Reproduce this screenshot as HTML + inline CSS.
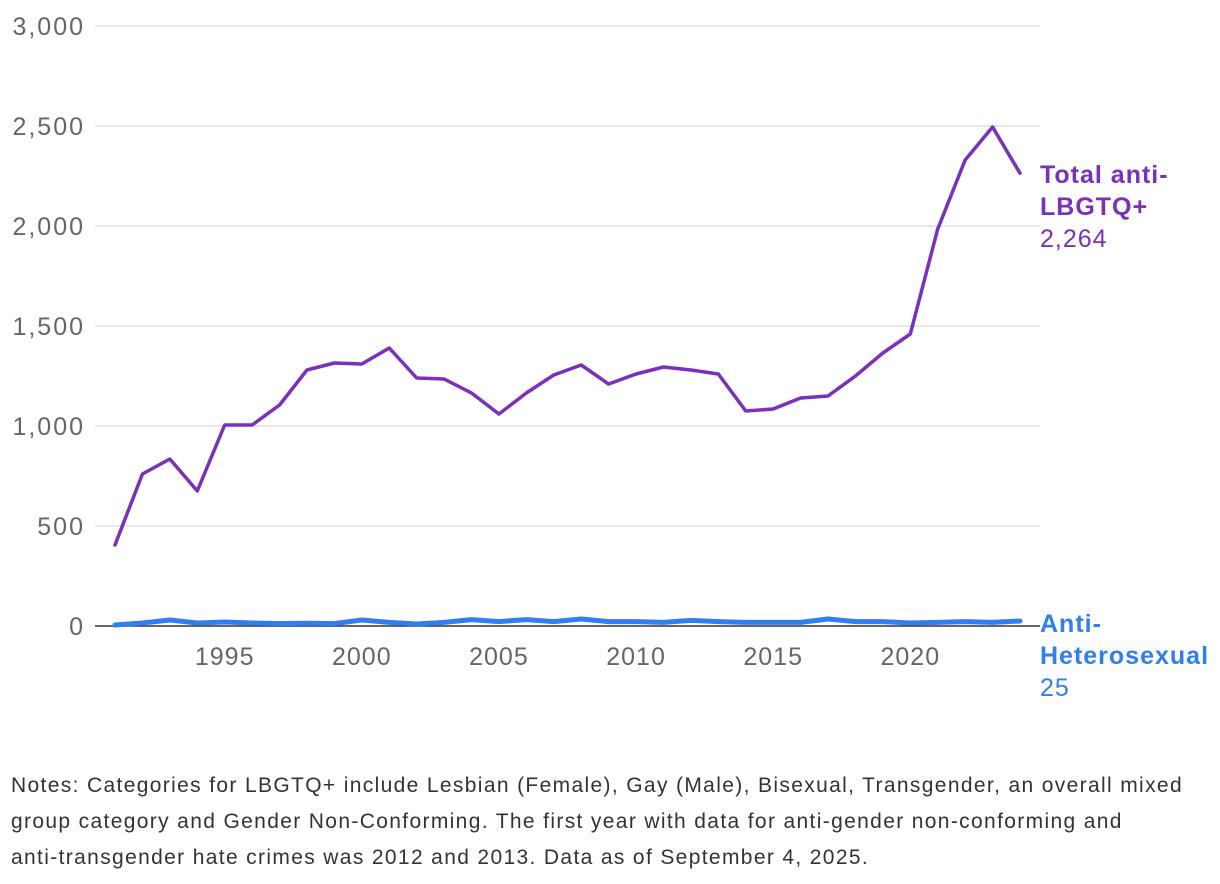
<!DOCTYPE html>
<html><head><meta charset="utf-8"><style>
body{margin:0;background:#fff;width:1220px;height:884px;overflow:hidden;font-family:"Liberation Sans",sans-serif}
.notes{position:absolute;left:11px;top:768px;width:1210px;font-size:21px;line-height:36px;color:#333;letter-spacing:1.35px;white-space:nowrap}
</style></head><body>
<svg id="chart" width="1220" height="760" style="position:absolute;left:0;top:0"></svg>
<div class="notes">Notes: Categories for LBGTQ+ include Lesbian (Female), Gay (Male), Bisexual, Transgender, an overall mixed<br>group category and Gender Non-Conforming. The first year with data for anti-gender non-conforming and<br>anti-transgender hate crimes was 2012 and 2013. Data as of September 4, 2025.</div>
<script>
const years=[1991,1992,1993,1994,1995,1996,1997,1998,1999,2000,2001,2002,2003,2004,2005,2006,2007,2008,2009,2010,2011,2012,2013,2014,2015,2016,2017,2018,2019,2020,2021,2022,2023,2024];
const antiLgbtq=[405,760,835,675,1005,1005,1105,1280,1315,1310,1390,1240,1235,1165,1060,1165,1255,1305,1210,1260,1295,1280,1260,1075,1085,1140,1150,1250,1365,1460,1985,2330,2495,2264];
const antiHetero=[5,15,30,15,20,15,12,14,12,30,18,10,18,32,22,32,22,35,22,22,18,28,22,18,18,18,35,22,22,15,18,22,18,25];
const yTicks=[0,500,1000,1500,2000,2500,3000];
const xTicks=[1995,2000,2005,2010,2015,2020];
const NS="http://www.w3.org/2000/svg";
const svg=document.getElementById('chart');
const x=y=>115+(y-1991)*(905/33);
const yS=v=>626-v*0.2;
function mk(t,a){const e=document.createElementNS(NS,t);for(const k in a)e.setAttribute(k,a[k]);svg.appendChild(e);return e;}
yTicks.forEach(t=>{
 const l=mk('line',{x1:95,x2:1040,y1:yS(t),y2:yS(t),stroke:t===0?'#333':'#d0d0d0','stroke-width':t===0?1.5:1});
 
 
 const tx=mk('text',{x:85,y:yS(t)+9,'text-anchor':'end','font-size':25,fill:'#666','letter-spacing':2});
 tx.textContent=t.toLocaleString('en-US');
 
 
});
xTicks.forEach(t=>{
 const tx=mk('text',{x:x(t),y:665,'text-anchor':'middle','font-size':25,fill:'#666','letter-spacing':1});
 tx.textContent=t;
 
 
});
function line(vals,color,w,name){
 const p=mk('polyline',{points:vals.map((v,i)=>x(years[i])+','+yS(v)).join(' '),fill:'none',stroke:color,'stroke-width':w,'stroke-linejoin':'round','stroke-linecap':'round'});
 
 
}
line(antiHetero,'#2f7ef2',5,'anti-heterosexual-line');
line(antiLgbtq,'#7b2fbe',3.5,'anti-lgbtq-line');
function label(lines,y0,color,name){
 const t=mk('text',{x:1040,y:y0,'font-size':25,'font-weight':'bold',fill:color,'letter-spacing':1});
 
 
 lines.forEach((s,i)=>{const ts=document.createElementNS(NS,'tspan');ts.setAttribute('x',1040);ts.setAttribute('dy',i?32:0);if(i===lines.length-1)ts.setAttribute('font-weight','normal');ts.textContent=s;t.appendChild(ts);});
}
label(['Total anti-','LBGTQ+',antiLgbtq[antiLgbtq.length-1].toLocaleString('en-US')],183,'#7b2fbe','anti-lgbtq-label');
label(['Anti-','Heterosexual',String(antiHetero[antiHetero.length-1])],632,'#2f7ef2','anti-heterosexual-label');
</script>
</body></html>
